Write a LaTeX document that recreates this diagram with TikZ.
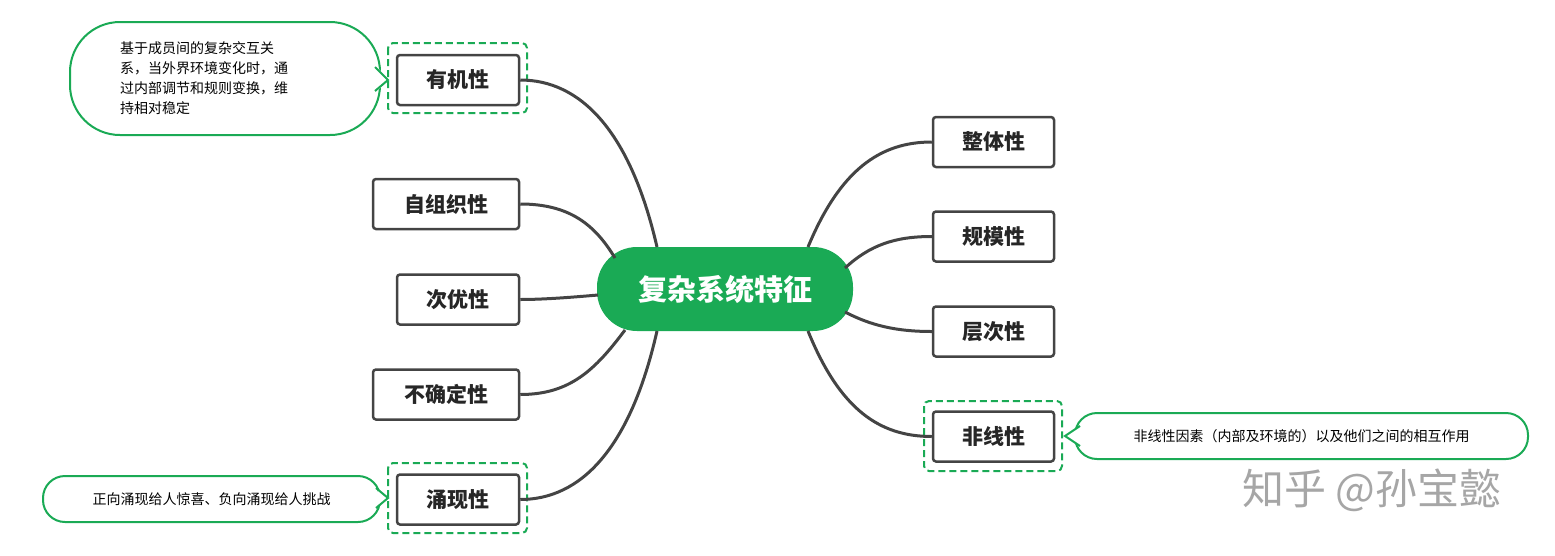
\documentclass[tikz,border=0pt]{standalone}
\usepackage{fontspec}
\setmainfont{Noto Sans CJK SC}
\definecolor{mgreen}{HTML}{1AAA55}
\definecolor{dgray}{HTML}{444444}
\begin{document}
\begin{tikzpicture}[x=1pt,y=-1pt,
  topic/.style={draw=dgray,line width=2.5pt,rounded corners=3pt,minimum height=50pt,font=\fontsize{21}{24}\selectfont\bfseries,text=black!85,inner sep=0pt},
  dashbox/.style={draw=mgreen,line width=2pt,dashed,dash pattern=on 7pt off 4pt,rounded corners=5pt},
  link/.style={draw=dgray,line width=3pt},
  callout/.style={draw=mgreen,line width=2pt,fill=white,font=\fontsize{14}{20}\selectfont,text=black,align=left}]
\useasboundingbox (0,0) rectangle (1555,555);
% central
\node[fill=mgreen,rounded corners=40pt,minimum width=256pt,minimum height=84pt,text=white,font=\fontsize{29}{32}\selectfont\bfseries] (c) at (725,289) {复杂系统特征};
% left topics
\node[topic,minimum width=122pt] (a1) at (458,80) {有机性};
\node[topic,minimum width=146pt] (a2) at (446,204) {自组织性};
\node[topic,minimum width=122pt] (a3) at (458,299.5) {次优性};
\node[topic,minimum width=146pt] (a4) at (446,394.5) {不确定性};
\node[topic,minimum width=122pt] (a5) at (458,499.5) {涌现性};
% right topics
\node[topic,minimum width=121pt] (b1) at (993.5,142) {整体性};
\node[topic,minimum width=121pt] (b2) at (993.5,236.5) {规模性};
\node[topic,minimum width=121pt] (b3) at (993.5,331.5) {层次性};
\node[topic,minimum width=121pt] (b4) at (993.5,436.5) {非线性};
% dashed boxes
\draw[dashbox] (388,43) rectangle (527,113);
\draw[dashbox] (388,463) rectangle (527,533);
\draw[dashbox] (924,401) rectangle (1062,471);
% connectors
\coordinate (s1) at (657,247); \coordinate (s2) at (615,258);
\coordinate (s3) at (598,295); \coordinate (s4) at (625,330);
\coordinate (s5) at (657,331);
\coordinate (t1) at (808,247); \coordinate (t2) at (845,268);
\coordinate (t3) at (845,312); \coordinate (t4) at (808,331);
\draw[link] (s1) .. controls (630,130) and (580,80) .. (a1.east);
\draw[link] (s2) .. controls (595,225) and (570,204) .. (a2.east);
\draw[link] (s3) .. controls (575,297) and (545,299.5) .. (a3.east);
\draw[link] (s4) .. controls (595,370) and (570,394.5) .. (a4.east);
\draw[link] (s5) .. controls (630,450) and (580,499.5) .. (a5.east);
\draw[link] (t1) .. controls (840,170) and (880,142) .. (b1.west);
\draw[link] (t2) .. controls (870,245) and (895,236.5) .. (b2.west);
\draw[link] (t3) .. controls (870,325) and (895,331.5) .. (b3.west);
\draw[link] (t4) .. controls (840,410) and (880,436.5) .. (b4.west);
% callouts
\node[callout,rounded corners=50pt,minimum width=310pt,minimum height=113pt,text width=210pt,inner xsep=0pt] (n1) at (225,78.5) {基于成员间的复杂交互关\\系，当外界环境变化时，通\\过内部调节和规则变换，维\\持相对稳定};
\coordinate (p1) at (388,80);
\fill[white] (378,68) -- (p1) -- (378,90) -- cycle;
\draw[mgreen,line width=2pt] (375,67) -- (p1) -- (375,91);
\node[callout,rounded corners=22pt,minimum width=337pt,minimum height=46pt,inner xsep=0pt] (n2) at (211.5,499) {正向涌现给人惊喜、负向涌现给人挑战};
\coordinate (p2) at (388,498);
\fill[white] (378,489) -- (p2) -- (378,507) -- cycle;
\draw[mgreen,line width=2pt] (376,488) -- (p2) -- (376,508);
\node[callout,rounded corners=22pt,minimum width=453pt,minimum height=46pt,inner xsep=0pt] (n3) at (1301.5,436) {非线性因素（内部及环境的）以及他们之间的相互作用};
\coordinate (p3) at (1065,436);
\fill[white] (1078,427) -- (p3) -- (1078,445) -- cycle;
\draw[mgreen,line width=2pt] (1080,426) -- (p3) -- (1080,446);
% watermark
\node[text=black!35,font=\fontsize{42}{46}\selectfont] (w) at (1372,490) {知乎 @孙宝懿};
\end{tikzpicture}
\end{document}
